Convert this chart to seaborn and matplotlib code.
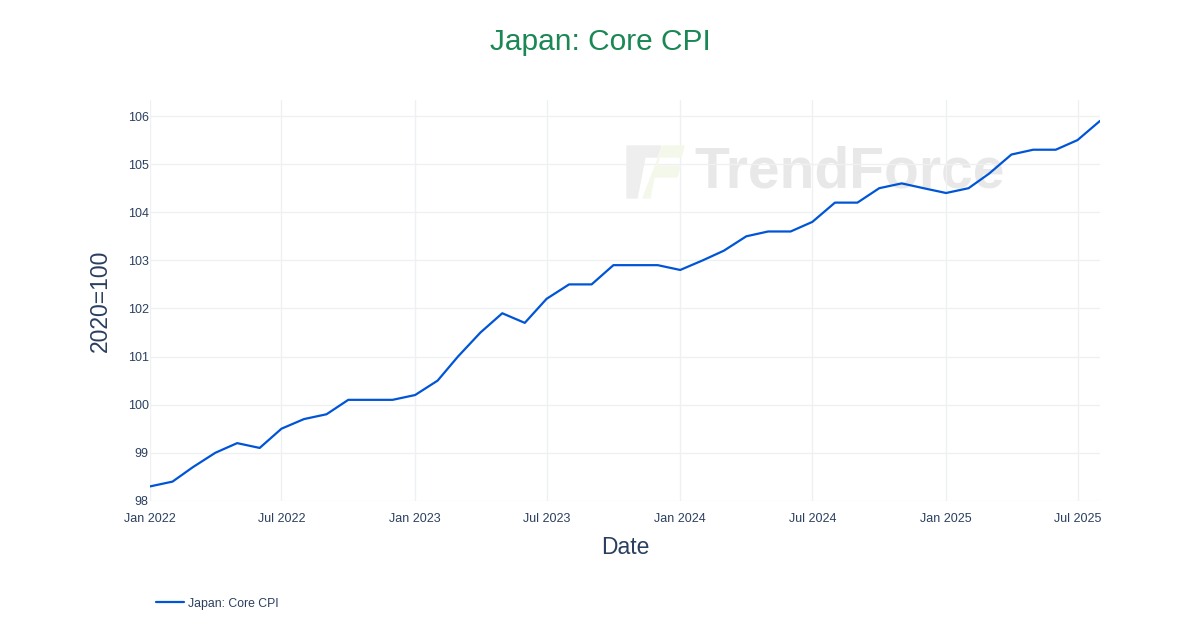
import pandas as pd
import seaborn as sns
import matplotlib.pyplot as plt
import matplotlib.dates as mdates
from matplotlib.patches import Polygon

dates = pd.date_range('2022-01-01', '2025-08-01', freq='MS')
core_cpi = [
    98.3, 98.4, 98.7, 99.0, 99.2, 99.1, 99.5, 99.7, 99.8, 100.1, 100.1, 100.1,
    100.2, 100.5, 101.0, 101.5, 101.9, 101.7, 102.2, 102.5, 102.5, 102.9, 102.9, 102.9,
    102.8, 103.0, 103.2, 103.5, 103.6, 103.6, 103.8, 104.2, 104.2, 104.5, 104.6, 104.5,
    104.4, 104.5, 104.8, 105.2, 105.3, 105.3, 105.5, 105.9,
]
series_name = 'Japan: Core CPI'

df = pd.DataFrame({'Date': dates, 'value': core_cpi})

sns.set_style('white')
plt.rcParams['font.family'] = ['Liberation Sans', 'DejaVu Sans']

text_color = '#2a3f5f'
grid_color = '#eef0f3'

fig = plt.figure(figsize = (12, 6.3), dpi = 100)
ax = fig.add_axes([0.125, 0.205, 0.7917, 0.636])

sns.lineplot(data = df, x = 'Date', y = 'value', ax = ax, color = '#0055d6',
             linewidth = 1.6, label = series_name, legend = False)

ax.set_xlim(pd.Timestamp('2022-01-01'), pd.Timestamp('2025-08-01'))
ax.set_ylim(98, 106.33)
ax.set_yticks(range(98, 107))
ax.xaxis.set_major_locator(mdates.MonthLocator(bymonth = [1, 7]))
ax.xaxis.set_major_formatter(mdates.DateFormatter('%b %Y'))

ax.grid(True, color = grid_color, linewidth = 1)
for s in ax.spines.values():
    s.set_visible(False)
ax.tick_params(axis = 'both', length = 0, labelsize = 9, colors = text_color)
ax.tick_params(axis = 'x', pad = 9)
ax.tick_params(axis = 'y', pad = 1)

ax.set_xlabel('Date', fontsize = 16.5, color = text_color, labelpad = 8)
ax.set_ylabel('2020=100', fontsize = 16.5, color = text_color, labelpad = 11)

# watermark (logo + text), drawn faintly behind the line
def px(x, y):
    return (x / 1200, 1 - y / 630)

logo_grey = [(627, 146), (661, 146), (657, 157), (645, 157), (637, 198), (627, 198)]
logo_green = [(663, 146), (684, 146), (681, 157), (659, 157), (657, 166), (680, 166),
              (677, 177), (654, 177), (650, 198), (643, 198)]
fig.patches.append(Polygon([px(*p) for p in logo_grey], closed = True,
                           transform = fig.transFigure, color = '#eeeeee', zorder = 0))
fig.patches.append(Polygon([px(*p) for p in logo_green], closed = True,
                           transform = fig.transFigure, color = '#f4f8ea', zorder = 0))

ax.text(0.573, 0.82, 'TrendForce', transform = ax.transAxes, fontsize = 41,
        fontweight = 'bold', color = '#e8e8e8', va = 'center', ha = 'left',
        zorder = 0)

fig.text(0.5, 0.934, 'Japan: Core CPI', ha = 'center', va = 'center',
         fontsize = 21.5, color = '#1a8754')

handles, labels = ax.get_legend_handles_labels()
fig.legend(handles = handles, labels = labels, loc = 'center left',
           bbox_to_anchor = (0.121, 0.042), frameon = False, fontsize = 8.8,
           labelcolor = text_color, handlelength = 2.3, handletextpad = 0.3)

fig.savefig('out.png', dpi = 100, facecolor = 'white')
